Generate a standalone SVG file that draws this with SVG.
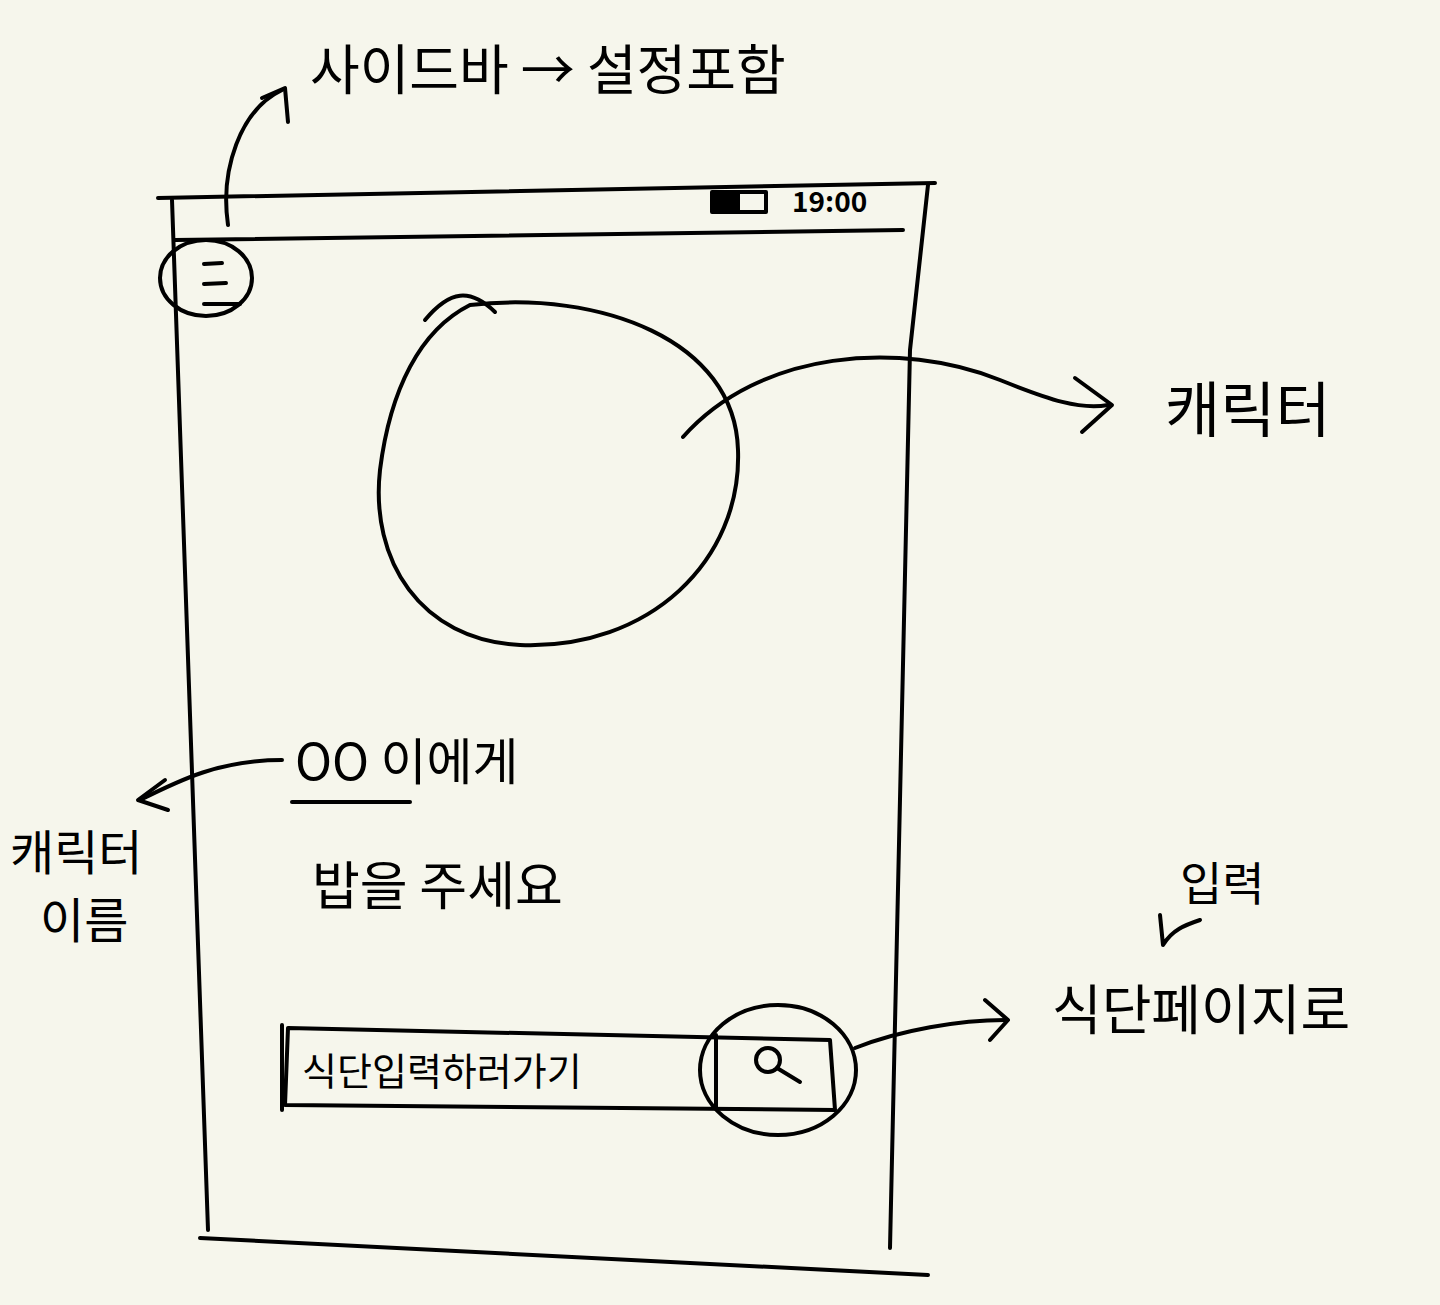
<svg xmlns="http://www.w3.org/2000/svg" width="1440" height="1305" viewBox="0 0 1440 1305">
<style>
.s{fill:none;stroke:#000;stroke-width:4;stroke-linecap:round;stroke-linejoin:round}
.t{font-family:"Noto Sans CJK KR","Noto Sans",sans-serif;fill:#000}
</style>
<rect width="1440" height="1305" fill="#f6f6ec"/>
<g id="phone">
<path class="s" d="M158 198 L935 183"/>
<path class="s" d="M172 200 L208 1230"/>
<path class="s" d="M928 185 L910 350 L890 1248"/>
<path class="s" d="M200 1238 L928 1275"/>
<path class="s" d="M175 240 L903 230"/>
</g>
<g id="statusbar">
<rect x="712" y="192" width="54" height="20" class="s"/>
<rect x="712" y="194" width="28" height="16" fill="#000"/>
<text class="t" x="792" y="212" font-size="28" font-weight="bold">19:00</text>
</g>
<g id="menu">
<ellipse cx="206" cy="278" rx="46" ry="38" class="s"/>
<path class="s" d="M204 264 L222 263 M204 284 L226 283 M204 304 L240 304"/>
</g>
<g id="character">
<path class="s" d="M425 320 C450 290 470 288 495 312"/>
<path class="s" d="M470 305 C600 290 735 340 738 450 C742 560 650 650 520 645 C420 640 370 560 380 470 C390 390 420 330 470 305 Z"/>
</g>
<g id="texts">
<text class="t" x="310" y="90" font-size="54">사이드바 → 설정포함</text>
<text class="t" x="1165" y="432" font-size="60">캐릭터</text>
<text class="t" x="295" y="780" font-size="50">OO 이에게</text>
<path class="s" d="M292 802 L410 802"/>
<text class="t" x="312" y="905" font-size="52">밥을 주세요</text>
<text class="t" x="10" y="870" font-size="48">캐릭터</text>
<text class="t" x="40" y="938" font-size="48">이름</text>
<text class="t" x="1180" y="900" font-size="46">입력</text>
<text class="t" x="1052" y="1030" font-size="54">식단페이지로</text>
</g>
<g id="searchbar">
<path class="s" d="M288 1028 L830 1040 L835 1110 L285 1105 Z"/>
<path class="s" d="M282 1025 L282 1110 M716 1035 L716 1108"/>
<text class="t" x="302" y="1085" font-size="38">식단입력하러가기</text>
<circle cx="768" cy="1060" r="12" class="s"/>
<path class="s" d="M777 1068 L800 1082"/>
<ellipse cx="778" cy="1070" rx="78" ry="65" class="s"/>
</g>
<g id="connectors">
<path class="s" d="M228 225 C220 170 240 110 282 90"/>
<path class="s" d="M262 98 L285 88 L288 122"/>
<path class="s" d="M683 437 C760 350 900 340 1000 380 C1050 400 1080 410 1108 405"/>
<path class="s" d="M1075 378 L1112 405 L1082 432"/>
<path class="s" d="M282 760 C220 760 180 780 140 800"/>
<path class="s" d="M165 780 L138 800 L168 810"/>
<path class="s" d="M1160 915 L1163 945 C1172 930 1185 925 1200 920"/>
<path class="s" d="M855 1048 C900 1030 960 1020 1005 1020"/>
<path class="s" d="M985 1000 L1008 1020 L990 1040"/>
</g>
</svg>
